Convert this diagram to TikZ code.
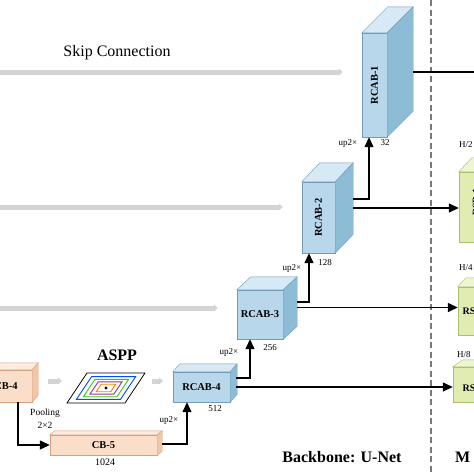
\documentclass[tikz,border=0pt]{standalone}
\usepackage{fontspec}
\setmainfont{Liberation Serif}
\usepackage{graphicx}
\usepackage{tikz}
\usetikzlibrary{positioning,calc,arrows.meta}
\usepackage{xcolor}

\definecolor{rcabfront}{RGB}{184,215,234}
\definecolor{rcabtop}{RGB}{214,233,245}
\definecolor{rcabside}{RGB}{140,188,214}
\definecolor{rcabline}{RGB}{115,155,185}
\definecolor{cbfront}{RGB}{251,222,202}
\definecolor{cbtop}{RGB}{253,236,224}
\definecolor{cbside}{RGB}{243,198,168}
\definecolor{cbline}{RGB}{215,160,125}
\definecolor{msfront}{RGB}{224,236,178}
\definecolor{mstop}{RGB}{238,245,210}
\definecolor{msline}{RGB}{170,192,110}
\definecolor{skipgray}{RGB}{212,212,212}
\definecolor{dashgray}{RGB}{120,120,120}

% top and side faces of a block: node, dx, dy, top, side, border
\newcommand{\blockfaces}[6]{%
  \filldraw[fill=#4,draw=#6] (#1.north west) -- ++(#2,#3) -- ($(#1.north east)+(#2,#3)$) -- (#1.north east) -- cycle;
  \filldraw[fill=#5,draw=#6] (#1.north east) -- ++(#2,#3) -- ($(#1.south east)+(#2,#3)$) -- (#1.south east) -- cycle;
}

\begin{document}
\begin{tikzpicture}[x=1pt,y=-1pt,
    rcab/.style={draw=rcabline,fill=rcabfront,inner sep=0pt,font=\fontsize{10.5}{12}\selectfont\bfseries},
    cb/.style={draw=cbline,fill=cbfront,inner sep=0pt,font=\fontsize{10.5}{12}\selectfont\bfseries},
    ms/.style={draw=msline,fill=msfront,inner sep=0pt},
    mstext/.style={font=\fontsize{10}{12}\selectfont\bfseries,inner sep=0pt},
    num/.style={font=\fontsize{9}{13}\selectfont,inner sep=0pt},
    title/.style={font=\fontsize{16}{18}\selectfont\bfseries,inner sep=0pt},
    link/.style={line width=1.4pt,-{Triangle[length=10pt,width=9pt]}},
    plain/.style={line width=1.4pt},
    skip/.style={draw=skipgray,line width=5pt,-{Triangle[length=4pt,width=7pt]}}]
\fill[white] (0,0) rectangle (474,474);
\useasboundingbox (0,0) rectangle (474,474);
\clip (0,0) rectangle (474,474);

% separation line
\draw[dashgray,line width=1.3pt,dash pattern=on 6pt off 3.5pt] (431,0) -- (431,474);

% decoder blocks
\node[rcab,minimum width=25pt,minimum height=104pt] (r1) at (374.5,85) {\rotatebox{90}{RCAB-1}};
\blockfaces{r1}{26}{-26}{rcabtop}{rcabside}{rcabline}
\node[rcab,minimum width=33pt,minimum height=71pt] (r2) at (318.5,217.5) {\rotatebox{90}{RCAB-2}};
\blockfaces{r2}{18}{-19}{rcabtop}{rcabside}{rcabline}
\node[rcab,minimum width=46pt,minimum height=49pt] (r3) at (260,314.5) {RCAB-3};
\blockfaces{r3}{14}{-13}{rcabtop}{rcabside}{rcabline}
\node[rcab,minimum width=57pt,minimum height=30pt] (r4) at (201.5,387) {RCAB-4};
\blockfaces{r4}{7}{-8}{rcabtop}{rcabside}{rcabline}

% encoder blocks
\node[cb,minimum width=52pt,minimum height=32pt] (cb4) at (6,386) {CB-4};
\blockfaces{cb4}{6}{-7}{cbtop}{cbside}{cbline}
\node[cb,minimum width=107pt,minimum height=20pt] (cb5) at (103.5,445) {CB-5};
\blockfaces{cb5}{5}{-4}{cbtop}{cbside}{cbline}

% right-hand blocks
\node[ms,minimum width=51pt,minimum height=70pt] (g2) at (484.5,207) {};
\blockfaces{g2}{13}{-14}{mstop}{msfront}{msline}
\node[ms,minimum width=52pt,minimum height=48pt] (g3) at (484,311) {};
\blockfaces{g3}{8}{-9}{mstop}{msfront}{msline}
\node[ms,minimum width=57pt,minimum height=35pt] (g4) at (481.5,384.5) {};
\blockfaces{g4}{10}{-7}{mstop}{msfront}{msline}
\node[mstext,rotate=90] (g2t) at (476,202) {RSB-1};
\node[mstext,anchor=west] (g3t) at (462.5,311) {RS};
\node[mstext,anchor=west] (g4t) at (462.5,388) {RS};
\node[num,anchor=west] (h2) at (459,145) {H/2};
\node[num,anchor=west] (h4) at (459,268) {H/4};
\node[num,anchor=west] (h8) at (457,355) {H/8};

% ASPP
\coordinate (aspp) at (106,388);
\draw[line width=0.8pt] ($(aspp)+(-39,15)$) -- ($(aspp)+(19,15)$) -- ($(aspp)+(39,-15)$) -- ($(aspp)+(-19,-15)$) -- cycle;
\foreach \s/\c in {0.76/blue!70!cyan, 0.58/green!60!olive, 0.41/violet!80, 0.25/orange} {
  \draw[\c,line width=0.9pt] ($(aspp)+\s*(-39,15)$) -- ($(aspp)+\s*(19,15)$) -- ($(aspp)+\s*(39,-15)$) -- ($(aspp)+\s*(-19,-15)$) -- cycle;
}
\fill (aspp) circle (1.6);
\node[title] (asppname) at (117,355) {ASPP};

% skip connections
\coordinate (s1) at (0,72);
\coordinate (s2) at (0,207);
\coordinate (s3) at (0,308);
\draw[skip] (s1) -- ($(s1 -| r1.west)+(-19,0)$);
\draw[skip] (s2) -- ($(s2 -| r2.west)+(-19,0)$);
\draw[skip] (s3) -- ($(s3 -| r3.west)+(-19,0)$);
\coordinate (a1) at (48,381);
\coordinate (a2) at (152,381);
\draw[skip] (a1) -- ++(14,0);
\draw[skip] (a2) -- ++(11,0);
\node[font=\fontsize{16}{18}\selectfont,inner sep=0pt] (skiplabel) at (117,53) {Skip Connection};

% connections
\coordinate (r1o) at ($(r1.east)+(26,-13)$);
\coordinate (r1end) at (480,72);
\draw[plain] (r1o) -- (r1end);
\coordinate (r2up) at ($(r2.east)+(18,-18.5)$);
\coordinate (r2o) at ($(r2.east)+(18,-9.5)$);
\draw[link] (r2up) -| ($(r1.south)+(-5.5,0)$);
\draw[link] (r2o) -- (r2o -| g2.west);
\coordinate (r3up) at ($(r3.east)+(14,-12.5)$);
\coordinate (r3o) at ($(r3.east)+(14,-7)$);
\draw[link] (r3up) -| ($(r2.south)+(-9.5,0)$);
\draw[link] (r3o) -- (r3o -| g3.west);
\coordinate (r4up) at ($(r4.east)+(6,-9)$);
\coordinate (r4o) at ($(r4.east)+(6,0)$);
\draw[link] (r4up) -| ($(r3.south)+(-10,0)$);
\draw[link] (r4o) -- (r4o -| g4.west);
\draw[link] ($(cb4.south)+(12,0)$) |- (cb5.west);
\coordinate (cb5o) at ($(cb5.east)+(5,-1)$);
\draw[link] (cb5o) -| ($(r4.south)+(-14.5,0)$);

% labels
\node[num] (n1) at (385,143) {32};
\node[num] (n2) at (325,263) {128};
\node[num] (n3) at (270,348) {256};
\node[num] (n4) at (215,409) {512};
\node[num,font=\fontsize{10}{12}\selectfont] (n5) at (105,462) {1024};
\node[num] (u1) at (348,143) {up2×};
\node[num] (u2) at (292,268) {up2×};
\node[num] (u3) at (229,352) {up2×};
\node[num] (u4) at (169,420) {up2×};
\node[num,align=center,font=\fontsize{9.5}{13}\selectfont] (pool) at (45,419) {Pooling\\2×2};
\node[title] (backbone) at (342,457) {Backbone: U-Net};
\node[title,anchor=west] (msname) at (455,457) {M};
\end{tikzpicture}
\end{document}
